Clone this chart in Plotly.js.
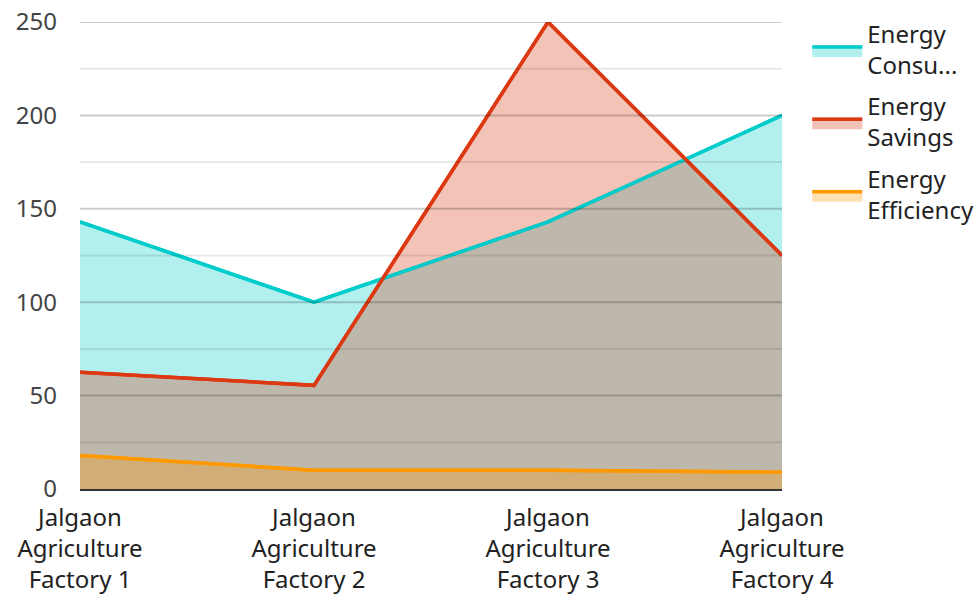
<!DOCTYPE html>
<html>
<head>
<meta charset="utf-8">
<script src="https://cdn.plot.ly/plotly-3.0.1.min.js"></script>
<style>html,body{margin:0;padding:0;background:#fff;}#chart{width:979px;height:594px;}</style>
</head>
<body>
<div id="chart"></div>
<script>
const categories = ["Jalgaon<br>Agriculture<br>Factory 1", "Jalgaon<br>Agriculture<br>Factory 2", "Jalgaon<br>Agriculture<br>Factory 3", "Jalgaon<br>Agriculture<br>Factory 4"];
const seriesNames = ["Energy<br>Consu...", "Energy<br>Savings", "Energy<br>Efficiency"];
const energyConsumption = [143, 100, 143, 200];
const energySavings = [62.5, 55.5, 250, 125];
const energyEfficiency = [18, 10, 10, 9];
const majorTicks = [0, 50, 100, 150, 200, 250];
const minorTicks = [25, 75, 125, 175, 225];

const colors = ["#00cccc", "#dc3912", "#ff9900"];
const fills = ["rgba(0,204,204,0.3)", "rgba(220,57,18,0.3)", "rgba(255,153,0,0.3)"];
const xs = categories.map((c, i) => i);
const allSeries = [energyConsumption, energySavings, energyEfficiency];

// fill traces (with legend)
const fillTraces = allSeries.map((vals, k) => ({
  type: "scatter", mode: "lines", x: xs, y: vals,
  name: seriesNames[k], legendgroup: "g" + k,
  fill: "tozeroy", fillcolor: fills[k],
  line: {color: colors[k], width: 3.5}, hoverinfo: "x+y"
}));
// line traces on top of every fill
const lineTraces = allSeries.map((vals, k) => ({
  type: "scatter", mode: "lines", x: xs, y: vals,
  name: seriesNames[k], legendgroup: "g" + k, showlegend: false,
  line: {color: colors[k], width: 3.5}, hoverinfo: "skip"
}));

const shapes = [];
majorTicks.filter(v => v > 0).forEach(v => shapes.push({type: "line", xref: "paper", yref: "y", x0: 0, x1: 1, y0: v, y1: v, layer: "above", line: {color: "rgba(0,0,0,0.2)", width: 2}}));
minorTicks.forEach(v => shapes.push({type: "line", xref: "paper", yref: "y", x0: 0, x1: 1, y0: v, y1: v, layer: "above", line: {color: "rgba(0,0,0,0.09)", width: 2}}));

const layout = {
  width: 979, height: 594,
  margin: {l: 80, r: 197, t: 22, b: 105, autoexpand: false},
  paper_bgcolor: "#fff", plot_bgcolor: "#fff",
  font: {family: "'Noto Sans', 'Open Sans', sans-serif", size: 24, color: "#333"},
  showlegend: true,
  legend: {x: 1.036, xanchor: "left", y: 1.023, yanchor: "top", font: {size: 24, color: "#222"}, tracegroupgap: 7, itemwidth: 50, traceorder: "grouped"},
  xaxis: {
    range: [0, 3], tickmode: "array", tickvals: xs, ticktext: categories,
    showgrid: false, zeroline: false, showline: true, linecolor: "#333", linewidth: 2,
    ticks: "", ticklabelstandoff: 6, tickfont: {size: 24, color: "#222"}, fixedrange: true, automargin: false
  },
  yaxis: {
    range: [0, 250], tickmode: "array", tickvals: majorTicks, ticktext: majorTicks.map(String),
    showgrid: false, zeroline: false, showline: false, ticks: "", ticklen: 0, ticklabelstandoff: 22,
    tickfont: {size: 24, color: "#444"}, fixedrange: true, automargin: false
  },
  shapes: shapes
};

Plotly.newPlot("chart", fillTraces.concat(lineTraces), layout, {displayModeBar: false, staticPlot: true}).then(gd => {
  // taller legend fill swatches to match the reference
  gd.querySelectorAll(".legend .legendfill path").forEach(p => p.setAttribute("transform", "scale(1,2)"));
});
</script>
</body>
</html>
